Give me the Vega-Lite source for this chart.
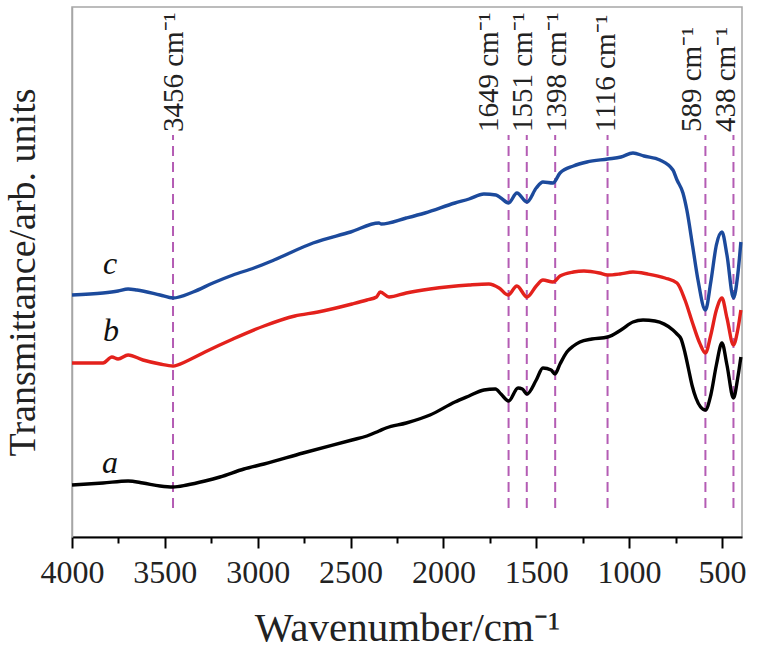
{
  "$schema": "https://vega.github.io/schema/vega-lite/v6.json",
  "width": 670,
  "height": 530,
  "autosize": {"type": "none"},
  "padding": {"left": 72, "top": 7, "right": 25, "bottom": 112},
  "background": "white",
  "config": {
    "view": {"stroke": "#a6a6a6", "strokeWidth": 1.5},
    "font": "Liberation Serif"
  },
  "datasets": {
    "spectra": [
      {"sample": "a", "wn": 4000, "t": 52}, {"sample": "a", "wn": 3833, "t": 54}, {"sample": "a", "wn": 3698, "t": 56},
      {"sample": "a", "wn": 3618, "t": 54}, {"sample": "a", "wn": 3526, "t": 51}, {"sample": "a", "wn": 3456, "t": 50},
      {"sample": "a", "wn": 3381, "t": 52}, {"sample": "a", "wn": 3284, "t": 56}, {"sample": "a", "wn": 3203, "t": 60},
      {"sample": "a", "wn": 3074, "t": 68}, {"sample": "a", "wn": 2966, "t": 73}, {"sample": "a", "wn": 2756, "t": 84},
      {"sample": "a", "wn": 2492, "t": 97}, {"sample": "a", "wn": 2412, "t": 101}, {"sample": "a", "wn": 2347, "t": 106},
      {"sample": "a", "wn": 2309, "t": 109}, {"sample": "a", "wn": 2200, "t": 114}, {"sample": "a", "wn": 2072, "t": 122},
      {"sample": "a", "wn": 1938, "t": 135}, {"sample": "a", "wn": 1862, "t": 141}, {"sample": "a", "wn": 1782, "t": 147},
      {"sample": "a", "wn": 1720, "t": 148}, {"sample": "a", "wn": 1690, "t": 143}, {"sample": "a", "wn": 1649, "t": 136},
      {"sample": "a", "wn": 1598, "t": 149}, {"sample": "a", "wn": 1575, "t": 148}, {"sample": "a", "wn": 1550, "t": 143},
      {"sample": "a", "wn": 1500, "t": 157}, {"sample": "a", "wn": 1464, "t": 169}, {"sample": "a", "wn": 1420, "t": 167},
      {"sample": "a", "wn": 1399, "t": 163}, {"sample": "a", "wn": 1372, "t": 173}, {"sample": "a", "wn": 1335, "t": 185},
      {"sample": "a", "wn": 1300, "t": 191}, {"sample": "a", "wn": 1265, "t": 195}, {"sample": "a", "wn": 1200, "t": 198},
      {"sample": "a", "wn": 1116, "t": 200}, {"sample": "a", "wn": 1044, "t": 207}, {"sample": "a", "wn": 979, "t": 215},
      {"sample": "a", "wn": 925, "t": 217}, {"sample": "a", "wn": 861, "t": 216}, {"sample": "a", "wn": 764, "t": 207},
      {"sample": "a", "wn": 742, "t": 203}, {"sample": "a", "wn": 720, "t": 198}, {"sample": "a", "wn": 700, "t": 185},
      {"sample": "a", "wn": 680, "t": 168}, {"sample": "a", "wn": 660, "t": 151}, {"sample": "a", "wn": 640, "t": 139},
      {"sample": "a", "wn": 615, "t": 130}, {"sample": "a", "wn": 589, "t": 127},
      {"sample": "a", "wn": 560, "t": 142}, {"sample": "a", "wn": 530, "t": 172}, {"sample": "a", "wn": 500, "t": 194},
      {"sample": "a", "wn": 473, "t": 172}, {"sample": "a", "wn": 438, "t": 139}, {"sample": "a", "wn": 415, "t": 159},
      {"sample": "a", "wn": 398, "t": 180},

      {"sample": "b", "wn": 4000, "t": 174}, {"sample": "b", "wn": 3833, "t": 174}, {"sample": "b", "wn": 3785, "t": 180},
      {"sample": "b", "wn": 3752, "t": 178}, {"sample": "b", "wn": 3698, "t": 182}, {"sample": "b", "wn": 3618, "t": 177},
      {"sample": "b", "wn": 3526, "t": 173}, {"sample": "b", "wn": 3456, "t": 171}, {"sample": "b", "wn": 3381, "t": 176},
      {"sample": "b", "wn": 3284, "t": 185}, {"sample": "b", "wn": 3133, "t": 198}, {"sample": "b", "wn": 2966, "t": 211},
      {"sample": "b", "wn": 2800, "t": 221}, {"sample": "b", "wn": 2675, "t": 225}, {"sample": "b", "wn": 2492, "t": 233},
      {"sample": "b", "wn": 2412, "t": 237}, {"sample": "b", "wn": 2360, "t": 240}, {"sample": "b", "wn": 2340, "t": 245},
      {"sample": "b", "wn": 2293, "t": 240}, {"sample": "b", "wn": 2200, "t": 244}, {"sample": "b", "wn": 2072, "t": 248},
      {"sample": "b", "wn": 1862, "t": 252}, {"sample": "b", "wn": 1755, "t": 253}, {"sample": "b", "wn": 1700, "t": 249},
      {"sample": "b", "wn": 1652, "t": 242}, {"sample": "b", "wn": 1604, "t": 251}, {"sample": "b", "wn": 1550, "t": 240},
      {"sample": "b", "wn": 1500, "t": 251}, {"sample": "b", "wn": 1464, "t": 257}, {"sample": "b", "wn": 1410, "t": 255},
      {"sample": "b", "wn": 1372, "t": 261}, {"sample": "b", "wn": 1300, "t": 265}, {"sample": "b", "wn": 1243, "t": 266},
      {"sample": "b", "wn": 1160, "t": 264}, {"sample": "b", "wn": 1116, "t": 262}, {"sample": "b", "wn": 1050, "t": 263},
      {"sample": "b", "wn": 979, "t": 265}, {"sample": "b", "wn": 900, "t": 263}, {"sample": "b", "wn": 807, "t": 259},
      {"sample": "b", "wn": 742, "t": 254}, {"sample": "b", "wn": 699, "t": 237}, {"sample": "b", "wn": 660, "t": 215},
      {"sample": "b", "wn": 620, "t": 194}, {"sample": "b", "wn": 589, "t": 184}, {"sample": "b", "wn": 560, "t": 202},
      {"sample": "b", "wn": 530, "t": 227}, {"sample": "b", "wn": 500, "t": 239}, {"sample": "b", "wn": 473, "t": 219},
      {"sample": "b", "wn": 438, "t": 192}, {"sample": "b", "wn": 415, "t": 207}, {"sample": "b", "wn": 398, "t": 227},

      {"sample": "c", "wn": 4000, "t": 242}, {"sample": "c", "wn": 3833, "t": 244}, {"sample": "c", "wn": 3752, "t": 246},
      {"sample": "c", "wn": 3698, "t": 248}, {"sample": "c", "wn": 3650, "t": 247}, {"sample": "c", "wn": 3526, "t": 242},
      {"sample": "c", "wn": 3456, "t": 239}, {"sample": "c", "wn": 3348, "t": 245}, {"sample": "c", "wn": 3241, "t": 254},
      {"sample": "c", "wn": 3133, "t": 262}, {"sample": "c", "wn": 3020, "t": 269}, {"sample": "c", "wn": 2912, "t": 277},
      {"sample": "c", "wn": 2702, "t": 294}, {"sample": "c", "wn": 2500, "t": 305}, {"sample": "c", "wn": 2347, "t": 314},
      {"sample": "c", "wn": 2336, "t": 313}, {"sample": "c", "wn": 2200, "t": 319}, {"sample": "c", "wn": 2099, "t": 324},
      {"sample": "c", "wn": 1938, "t": 334}, {"sample": "c", "wn": 1862, "t": 338}, {"sample": "c", "wn": 1782, "t": 343},
      {"sample": "c", "wn": 1717, "t": 342}, {"sample": "c", "wn": 1690, "t": 339}, {"sample": "c", "wn": 1649, "t": 334},
      {"sample": "c", "wn": 1604, "t": 344}, {"sample": "c", "wn": 1550, "t": 335}, {"sample": "c", "wn": 1500, "t": 349},
      {"sample": "c", "wn": 1464, "t": 355}, {"sample": "c", "wn": 1410, "t": 354}, {"sample": "c", "wn": 1372, "t": 364},
      {"sample": "c", "wn": 1300, "t": 371}, {"sample": "c", "wn": 1227, "t": 375}, {"sample": "c", "wn": 1116, "t": 378},
      {"sample": "c", "wn": 1044, "t": 380}, {"sample": "c", "wn": 979, "t": 384}, {"sample": "c", "wn": 920, "t": 381},
      {"sample": "c", "wn": 834, "t": 377}, {"sample": "c", "wn": 764, "t": 367}, {"sample": "c", "wn": 742, "t": 357},
      {"sample": "c", "wn": 710, "t": 344}, {"sample": "c", "wn": 689, "t": 327}, {"sample": "c", "wn": 657, "t": 290},
      {"sample": "c", "wn": 629, "t": 257}, {"sample": "c", "wn": 589, "t": 227}, {"sample": "c", "wn": 560, "t": 255},
      {"sample": "c", "wn": 530, "t": 292}, {"sample": "c", "wn": 500, "t": 305}, {"sample": "c", "wn": 473, "t": 282},
      {"sample": "c", "wn": 438, "t": 239}, {"sample": "c", "wn": 415, "t": 262}, {"sample": "c", "wn": 398, "t": 295}
    ],
    "peaks": [
      {"wn": 3456, "labelWn": 3451, "label": "3456 cm⁻¹"},
      {"wn": 1649, "labelWn": 1755, "label": "1649 cm⁻¹"},
      {"wn": 1551, "labelWn": 1572, "label": "1551 cm⁻¹"},
      {"wn": 1398, "labelWn": 1388, "label": "1398 cm⁻¹"},
      {"wn": 1116, "labelWn": 1125, "label": "1116 cm⁻¹"},
      {"wn": 589, "labelWn": 662, "label": "589 cm⁻¹"},
      {"wn": 438, "labelWn": 478, "label": "438 cm⁻¹"}
    ],
    "tags": [
      {"sample": "a", "wn": 3795, "t": 74},
      {"sample": "b", "wn": 3790, "t": 206},
      {"sample": "c", "wn": 3795, "t": 273}
    ]
  },
  "encoding": {
    "x": {
      "field": "wn",
      "type": "quantitative",
      "scale": {"domain": [4000, 392], "nice": false, "zero": false},
      "axis": {
        "title": "Wavenumber/cm⁻¹",
        "values": [4000, 3750, 3500, 3250, 3000, 2750, 2500, 2250, 2000, 1750, 1500, 1250, 1000, 750, 500],
        "labelExpr": "datum.value % 500 === 0 ? datum.value : ''",
        "labelFont": "Liberation Serif",
        "labelFontSize": 32,
        "labelColor": "#222222",
        "labelPadding": 9,
        "labelFlush": false,
        "labelOverlap": false,
        "domainColor": "#000000",
        "domainWidth": 2,
        "tickColor": "#000000",
        "tickWidth": 2,
        "tickSize": {"condition": {"test": "datum.value % 500 === 0", "value": 11}, "value": 6},
        "grid": false,
        "titleFont": "Liberation Serif",
        "titleFontSize": 41,
        "titleFontWeight": "normal",
        "titleColor": "#222222",
        "titlePadding": 20
      }
    }
  },
  "layer": [
    {
      "data": {"name": "peaks"},
      "mark": {"type": "rule", "color": "#b45cb4", "strokeWidth": 2, "strokeDash": [10, 6]},
      "encoding": {
        "y": {"datum": 29, "type": "quantitative"},
        "y2": {"datum": 402}
      }
    },
    {
      "data": {"name": "peaks"},
      "mark": {"type": "text", "angle": 270, "align": "left", "baseline": "middle", "font": "Liberation Serif", "fontSize": 29, "color": "#222222"},
      "encoding": {
        "x": {"field": "labelWn", "type": "quantitative"},
        "y": {"datum": 405, "type": "quantitative"},
        "text": {"field": "label"}
      }
    },
    {
      "data": {"name": "spectra"},
      "mark": {"type": "line", "strokeWidth": 3.4, "interpolate": "monotone"},
      "encoding": {
        "y": {
          "field": "t",
          "type": "quantitative",
          "scale": {"domain": [0, 530], "nice": false},
          "axis": {
            "title": "Transmittance/arb. units",
            "ticks": false,
            "labels": false,
            "grid": false,
            "domainColor": "#a6a6a6",
            "domainWidth": 1.5,
            "titleFont": "Liberation Serif",
            "titleFontSize": 38,
            "titleFontWeight": "normal",
            "titleColor": "#222222",
            "titlePadding": 30
          }
        },
        "color": {
          "field": "sample",
          "type": "nominal",
          "scale": {"domain": ["a", "b", "c"], "range": ["#000000", "#e3211c", "#1c4a9c"]},
          "legend": null
        }
      }
    },
    {
      "data": {"name": "tags"},
      "mark": {"type": "text", "font": "Liberation Serif", "fontStyle": "italic", "fontSize": 32, "color": "#111111", "baseline": "middle", "align": "center"},
      "encoding": {
        "y": {"field": "t", "type": "quantitative"},
        "text": {"field": "sample"}
      }
    }
  ]
}
